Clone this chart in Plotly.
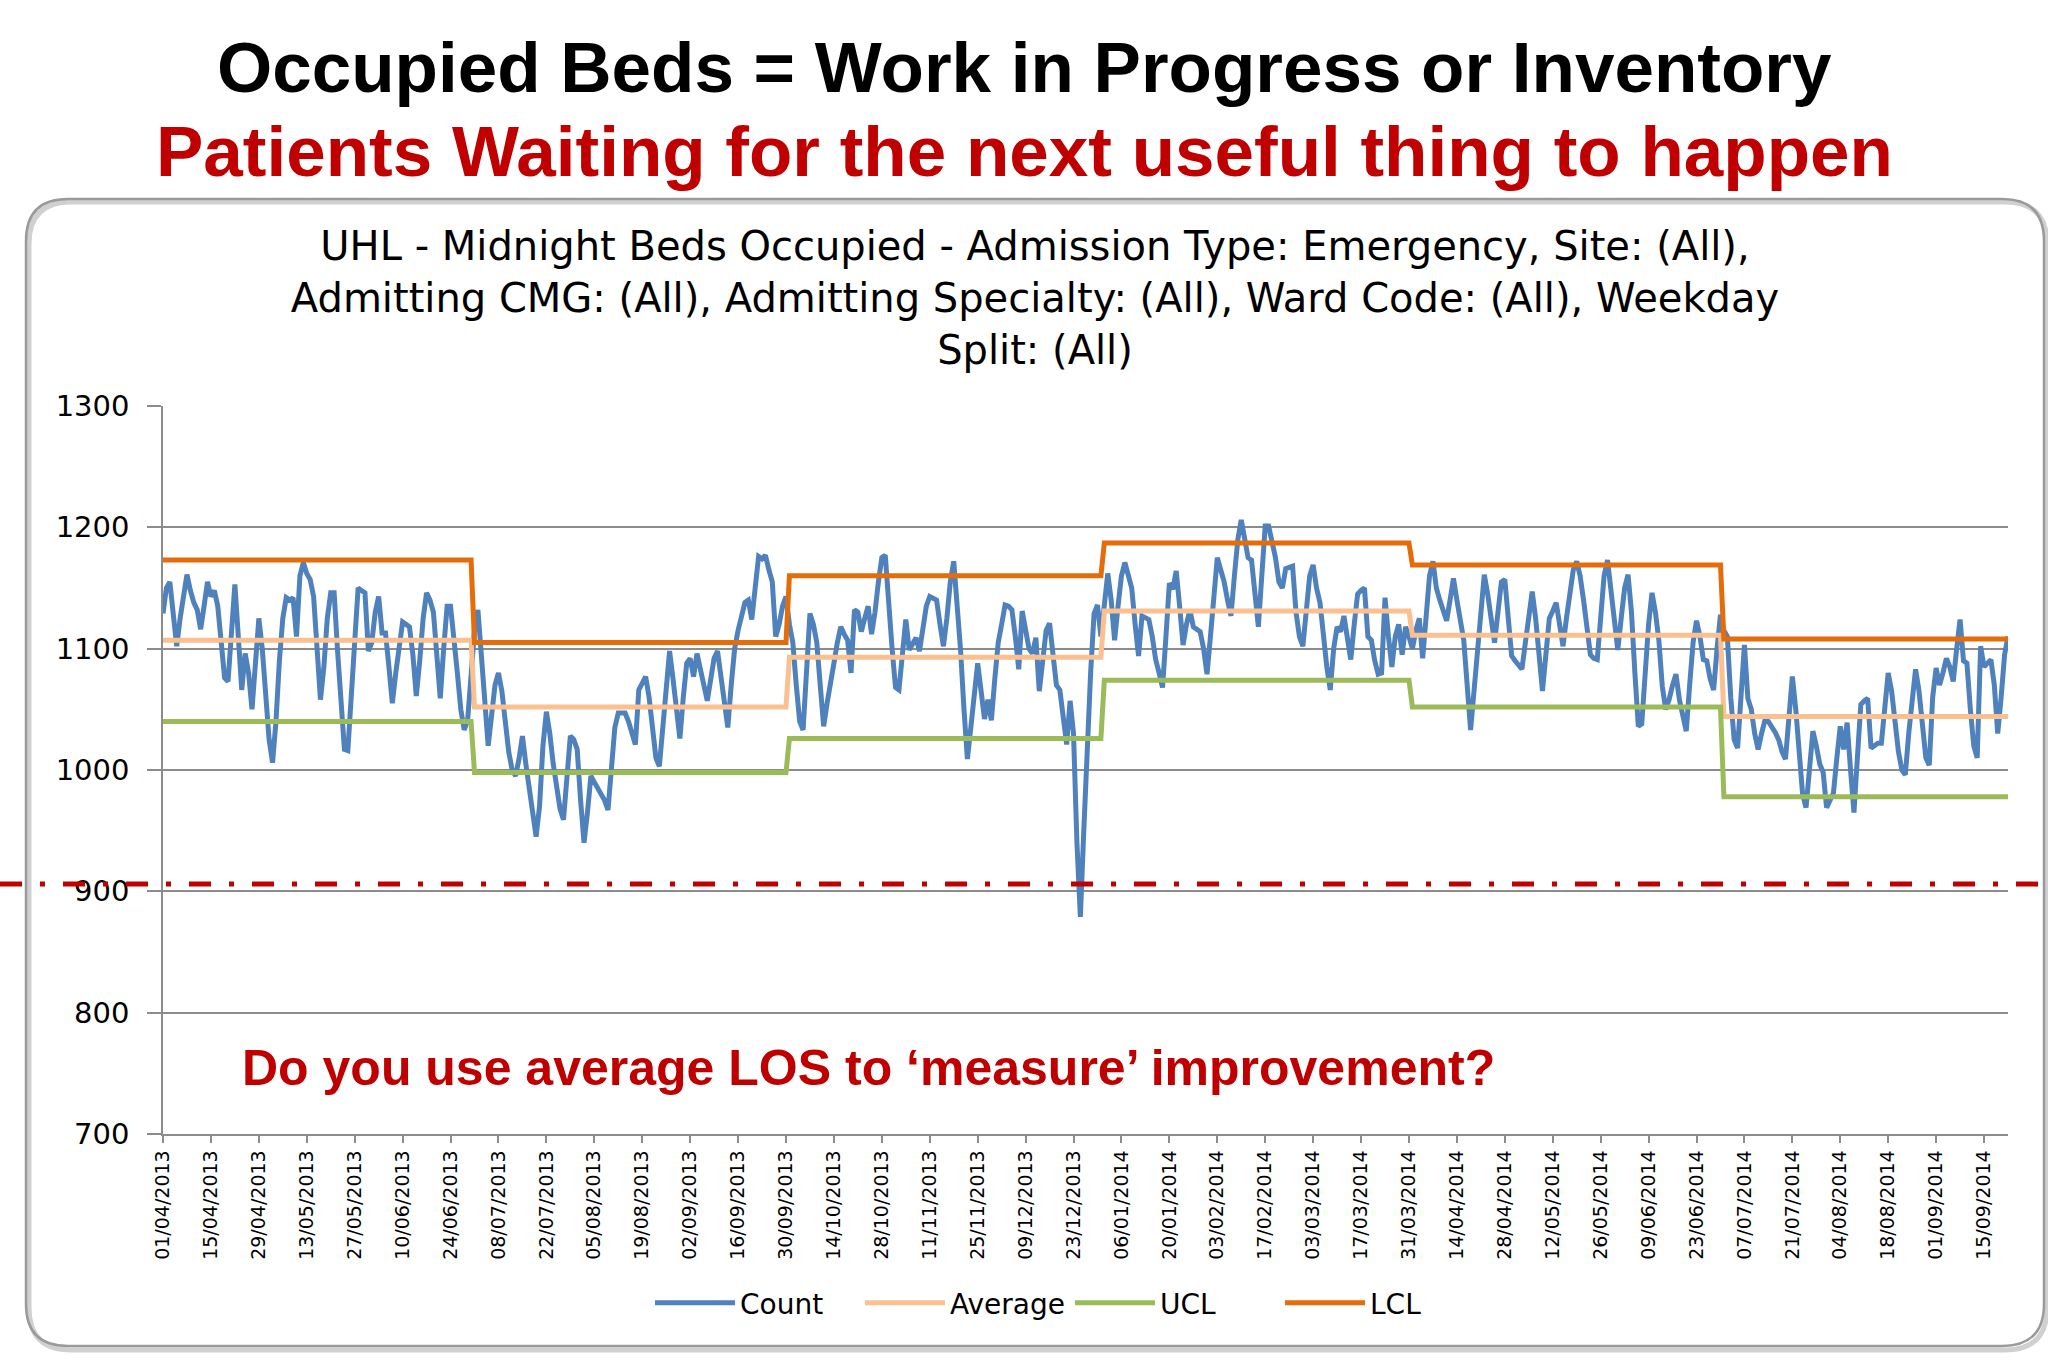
import pandas as pd
import plotly.graph_objects as go

# ---------------- data ----------------
start_date = "2013-04-01"

# Daily midnight beds occupied, 01/04/2013 .. 22/09/2014
count = [
    1129, 1150, 1155, 1130, 1102, 1125, 1145, 1161, 1148, 1138,
    1132, 1116, 1135, 1155, 1143, 1148, 1135, 1100, 1076, 1073,
    1110, 1153, 1110, 1066, 1096, 1080, 1050, 1090, 1125, 1100,
    1060, 1025, 1006, 1040, 1090, 1125, 1142, 1140, 1142, 1110,
    1160, 1171, 1162, 1157, 1143, 1100, 1058, 1085, 1125, 1146,
    1146, 1098, 1050, 1017, 1016, 1060, 1110, 1150, 1148, 1146,
    1098, 1105, 1130, 1143, 1113, 1113, 1085, 1055, 1080, 1105,
    1122, 1120, 1118, 1095, 1061, 1090, 1125, 1146, 1140, 1130,
    1095, 1059, 1100, 1135, 1135, 1110, 1080, 1050, 1033, 1041,
    1080, 1115, 1132, 1095, 1050, 1020, 1045, 1070, 1080, 1065,
    1040, 1015, 1000, 995, 1009, 1028, 1005, 985, 960, 945,
    970, 1020, 1048, 1030, 1005, 985, 968, 959, 1000, 1028,
    1025, 1017, 975, 940, 965, 995, 990, 985, 982, 975,
    967, 1000, 1035, 1047, 1047, 1047, 1040, 1030, 1021, 1066,
    1072, 1077, 1060, 1035, 1010, 1003, 1035, 1070, 1098, 1075,
    1045, 1026, 1060, 1088, 1092, 1077, 1096, 1085, 1070, 1057,
    1075, 1092, 1098, 1075, 1050, 1035, 1070, 1100, 1115, 1125,
    1138, 1140, 1124, 1150, 1176, 1174, 1177, 1165, 1155, 1110,
    1120, 1135, 1143, 1120, 1105, 1070, 1040, 1033, 1085, 1129,
    1120, 1105, 1070, 1036, 1055, 1075, 1088, 1105, 1118, 1112,
    1107, 1080, 1132, 1130, 1114, 1125, 1135, 1112, 1130, 1155,
    1175, 1177, 1130, 1100, 1068, 1066, 1095, 1124, 1099, 1105,
    1109, 1098, 1115, 1135, 1143, 1142, 1140, 1120, 1102, 1125,
    1155, 1172, 1140, 1099, 1050, 1009, 1035, 1065, 1088, 1065,
    1042, 1058, 1041, 1075, 1105, 1120, 1136, 1135, 1132, 1110,
    1083, 1131, 1115, 1100, 1096, 1109, 1065, 1090, 1115, 1121,
    1090, 1070, 1066, 1045, 1021, 1057, 1030, 940, 879, 950,
    1022, 1080, 1129, 1136, 1110, 1135, 1162, 1140, 1107, 1135,
    1160, 1171, 1160, 1150, 1120, 1094, 1127, 1126, 1124, 1110,
    1091, 1080, 1068, 1110, 1154, 1149, 1164, 1135, 1103, 1120,
    1132, 1118, 1116, 1114, 1100, 1079, 1110, 1145, 1175, 1165,
    1155, 1140, 1127, 1160, 1190, 1206, 1190, 1175, 1173, 1140,
    1118, 1160, 1201, 1201, 1190, 1175, 1155, 1150, 1166, 1167,
    1168, 1130, 1110, 1102, 1135, 1160, 1169, 1150, 1138, 1110,
    1085, 1066, 1100, 1118, 1114, 1127, 1110, 1091, 1120, 1145,
    1148, 1150, 1110, 1107, 1090, 1079, 1080, 1142, 1110, 1085,
    1110, 1120, 1095, 1118, 1110, 1100, 1115, 1125, 1092, 1130,
    1160, 1172, 1150, 1140, 1130, 1123, 1140, 1158, 1140, 1120,
    1107, 1070, 1033, 1065, 1100, 1135, 1161, 1145, 1125, 1105,
    1130, 1155, 1157, 1125, 1094, 1090, 1086, 1083, 1105, 1130,
    1147, 1125, 1095, 1065, 1095, 1125, 1131, 1138, 1120, 1102,
    1125, 1145, 1165, 1172, 1160, 1140, 1118, 1095, 1092, 1091,
    1125, 1160, 1173, 1150, 1125, 1099, 1125, 1150, 1161, 1130,
    1080, 1036, 1038, 1080, 1120, 1146, 1130, 1107, 1069, 1050,
    1058, 1070, 1079, 1058, 1045, 1032, 1070, 1105, 1123, 1110,
    1091, 1090, 1075, 1066, 1100, 1128, 1115, 1110, 1060, 1025,
    1018, 1060, 1103, 1059, 1050, 1030, 1017, 1030, 1041, 1040,
    1036, 1031, 1025, 1015, 1009, 1045, 1077, 1050, 1010, 980,
    969, 1000, 1032, 1020, 1005, 998, 969, 975, 981, 1010,
    1036, 1017, 1039, 1000, 965, 1010, 1054, 1057, 1059, 1018,
    1020, 1022, 1022, 1050, 1080, 1065, 1040, 1015, 1000, 996,
    1030, 1060, 1083, 1065, 1035, 1010, 1004, 1060, 1084, 1070,
    1080, 1092, 1085, 1073, 1100, 1124, 1090, 1088, 1050, 1020,
    1010, 1102, 1085, 1088, 1091, 1070, 1030, 1060, 1095, 1110,
]

# Quarterly control-chart parameters
quarter_starts = ["2013-04-01", "2013-07-01", "2013-10-01",
                  "2014-01-01", "2014-04-01", "2014-07-01"]
average_q = [1107, 1052, 1093, 1131, 1111, 1044]
ucl_q = [1040, 998, 1026, 1074, 1052, 978]
lcl_q = [1173, 1105, 1160, 1187, 1169, 1108]

# x tick labels: every 14 days
tick_dates = pd.date_range("2013-04-01", "2014-09-15", freq="14D")
tick_labels = [d.strftime("%d/%m/%Y") for d in tick_dates]

y_ticks = [700, 800, 900, 1000, 1100, 1200, 1300]
target_beds = 906

title_main = "Occupied Beds = Work in Progress or Inventory"
title_red = "Patients Waiting for the next useful thing to happen"
chart_title = ("UHL - Midnight Beds Occupied - Admission Type: Emergency, Site: (All),<br>"
               "Admitting CMG: (All), Admitting Specialty: (All), Ward Code: (All), Weekday<br>"
               "Split: (All)")
question = "Do you use average LOS to \u2018measure\u2019 improvement?"

# ---------------- build ----------------
dates = pd.date_range(start_date, periods=len(count), freq="D")
qs = pd.to_datetime(quarter_starts)
q_idx = qs.searchsorted(dates, side="right") - 1


def expand(vals):
    return [vals[i] for i in q_idx]


W, H = 2048, 1366
ML, MR, MT, MB = 163, 40, 406, 232
PW, PH = W - ML - MR, H - MT - MB


def pxx(x):
    return (x - ML) / PW


def pxy(y):
    return (H - MB - y) / PH


fig = go.Figure()
fig.add_trace(go.Scatter(x=dates, y=count, name="Count", mode="lines",
                         line=dict(color="#4F81BD", width=5)))
fig.add_trace(go.Scatter(x=dates, y=expand(average_q), name="Average", mode="lines",
                         line=dict(color="#FAC090", width=5)))
fig.add_trace(go.Scatter(x=dates, y=expand(ucl_q), name="UCL", mode="lines",
                         line=dict(color="#9BBB59", width=5)))
fig.add_trace(go.Scatter(x=dates, y=expand(lcl_q), name="LCL", mode="lines",
                         line=dict(color="#E46C0A", width=5)))

axis_grey = "#8C8C8C"
fig.update_xaxes(range=[dates[0], dates[-1]], tickvals=list(tick_dates), ticktext=tick_labels,
                 tickangle=-90, showgrid=False, zeroline=False, showline=True,
                 linecolor=axis_grey, linewidth=1.5, ticks="outside", ticklen=7,
                 tickcolor=axis_grey, tickwidth=1.5,
                 tickfont=dict(family="DejaVu Sans", size=19, color="black"))
fig.update_yaxes(range=[700, 1300], tickvals=y_ticks, showgrid=True, gridcolor=axis_grey,
                 gridwidth=1.5, zeroline=False, showline=True, linecolor=axis_grey,
                 linewidth=1.5, ticks="outside", ticklen=14, tickcolor=axis_grey, tickwidth=1.5,
                 ticklabelstandoff=12,
                 tickfont=dict(family="DejaVu Sans", size=29, color="black"))


# rounded chart border (with soft shadow)
def rounded(x0, y0, x1, y1, r):
    X0, X1 = pxx(x0), pxx(x1)
    Y0, Y1 = pxy(y0), pxy(y1)
    rx, ry = r / PW, r / PH
    return (f"M{X0 + rx},{Y0} L{X1 - rx},{Y0} Q{X1},{Y0} {X1},{Y0 - ry} "
            f"L{X1},{Y1 + ry} Q{X1},{Y1} {X1 - rx},{Y1} L{X0 + rx},{Y1} "
            f"Q{X0},{Y1} {X0},{Y1 + ry} L{X0},{Y0 - ry} Q{X0},{Y0} {X0 + rx},{Y0} Z")


shapes = [
    dict(type="path", xref="paper", yref="paper", path=rounded(29, 202, 2047, 1350, 42),
         line=dict(color="#D0D0D0", width=5), layer="below"),
    dict(type="path", xref="paper", yref="paper", path=rounded(26, 199, 2044, 1346, 42),
         line=dict(color="#9A9A9A", width=2.5), layer="below"),
    dict(type="line", xref="paper", yref="paper", x0=pxx(0), x1=pxx(W),
         y0=(target_beds - 700) / 600, y1=(target_beds - 700) / 600,
         line=dict(color="#C00000", width=5, dash="22px,18px,5px,18px"), layer="above"),
]

annotations = [
    dict(text=f"<b>{title_main}</b>", x=pxx(1024), y=pxy(67), xref="paper", yref="paper",
         xanchor="center", yanchor="middle", showarrow=False,
         font=dict(family="Liberation Sans, Arial", size=71, color="black")),
    dict(text=f"<b>{title_red}</b>", x=pxx(1024), y=pxy(152), xref="paper", yref="paper",
         xanchor="center", yanchor="middle", showarrow=False,
         font=dict(family="Liberation Sans, Arial", size=71, color="#C00000")),
    dict(text=f"<b>{question}</b>", x=pxx(240), y=pxy(1068), xref="paper", yref="paper",
         xanchor="left", yanchor="middle", showarrow=False,
         font=dict(family="Liberation Sans, Arial", size=50, color="#C00000")),
]

fig.update_layout(
    width=W, height=H, autosize=False,
    margin=dict(l=ML, r=MR, t=MT, b=MB),
    paper_bgcolor="white", plot_bgcolor="white",
    title=dict(text=chart_title, x=1035 / W, xref="container", xanchor="center",
               y=1 - 260 / H, yref="container", yanchor="middle",
               font=dict(family="DejaVu Sans", size=40, color="black")),
    showlegend=True,
    legend=dict(orientation="h", x=pxx(650), xanchor="left", y=pxy(1303), yanchor="middle",
                font=dict(family="DejaVu Sans", size=28, color="black"), itemwidth=80,
                entrywidth=115, entrywidthmode="pixels",
                bgcolor="rgba(0,0,0,0)", traceorder="normal"),
    shapes=shapes, annotations=annotations,
)

fig.write_html("out.html")
